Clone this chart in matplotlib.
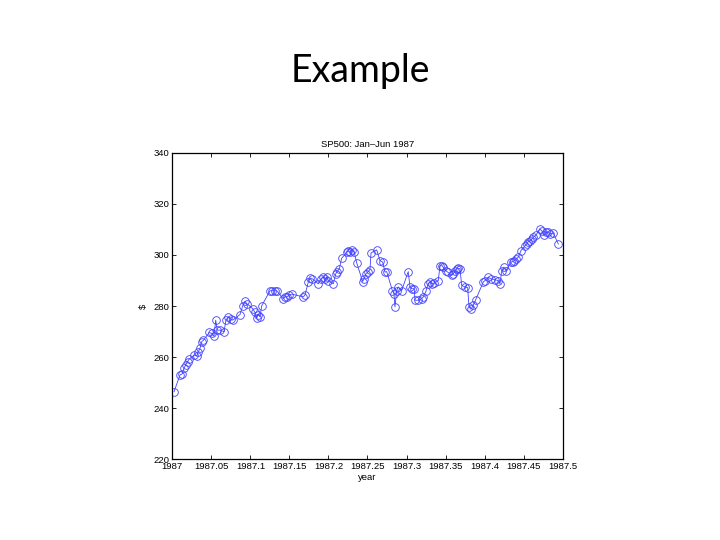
import matplotlib
matplotlib.use("Agg")
import matplotlib.pyplot as plt
import numpy as np

years = [1987.0022, 1987.0099, 1987.0128, 1987.0150, 1987.0172, 1987.0197, 1987.0214, 1987.0282,
         1987.0312, 1987.0333, 1987.0355, 1987.0377, 1987.0397, 1987.0474, 1987.0505, 1987.0534,
         1987.0556, 1987.0576, 1987.0611, 1987.0662, 1987.0688, 1987.0717, 1987.0748, 1987.0774,
         1987.0867, 1987.0902, 1987.0931, 1987.0953, 1987.1030, 1987.1059, 1987.1081, 1987.1101,
         1987.1123, 1987.1145, 1987.1251, 1987.1281, 1987.1315, 1987.1337, 1987.1422, 1987.1443,
         1987.1465, 1987.1495, 1987.1529, 1987.1678, 1987.1699, 1987.1742, 1987.1764, 1987.1793,
         1987.1870, 1987.1904, 1987.1934, 1987.1956, 1987.1977, 1987.1998, 1987.2062, 1987.2093,
         1987.2105, 1987.2139, 1987.2169, 1987.2234, 1987.2254, 1987.2276, 1987.2305, 1987.2331,
         1987.2362, 1987.2438, 1987.2455, 1987.2481, 1987.2510, 1987.2532, 1987.2545, 1987.2618,
         1987.2660, 1987.2695, 1987.2724, 1987.2746, 1987.2818, 1987.2839, 1987.2852, 1987.2874,
         1987.2894, 1987.2938, 1987.3022, 1987.3044, 1987.3066, 1987.3099, 1987.3108, 1987.3151,
         1987.3194, 1987.3215, 1987.3249, 1987.3275, 1987.3300, 1987.3322, 1987.3352, 1987.3407,
         1987.3428, 1987.3458, 1987.3471, 1987.3501, 1987.3527, 1987.3578, 1987.3599, 1987.3621,
         1987.3642, 1987.3663, 1987.3685, 1987.3706, 1987.3749, 1987.3783, 1987.3800, 1987.3825,
         1987.3855, 1987.3886, 1987.3983, 1987.4005, 1987.4047, 1987.4078, 1987.4133, 1987.4175,
         1987.4197, 1987.4219, 1987.4248, 1987.4274, 1987.4338, 1987.4360, 1987.4380, 1987.4402,
         1987.4431, 1987.4466, 1987.4517, 1987.4539, 1987.4559, 1987.4581, 1987.4603, 1987.4623,
         1987.4658, 1987.4709, 1987.4731, 1987.4764, 1987.4782, 1987.4808, 1987.4837, 1987.4879,
         1987.4944]

prices = [246.5, 253.1, 253.5, 255.7, 257.0, 258.3, 259.2, 260.9,
          260.4, 262.2, 263.5, 266.1, 266.6, 269.7, 269.3, 268.2,
          274.5, 270.6, 270.6, 270.0, 274.5, 275.8, 275.1, 274.5,
          276.7, 280.1, 281.9, 281.0, 279.0, 277.5, 275.4, 276.7,
          275.8, 280.1, 286.0, 286.0, 286.0, 286.0, 282.9, 283.6,
          283.6, 284.2, 284.7, 283.6, 284.3, 289.4, 291.0, 290.7,
          288.7, 290.7, 291.3, 290.7, 291.3, 290.0, 288.7, 292.6,
          293.3, 294.6, 298.7, 301.0, 301.7, 301.0, 302.0, 301.0,
          296.9, 289.6, 290.7, 292.6, 293.5, 294.3, 300.8, 302.0,
          297.8, 297.2, 293.3, 293.5, 286.1, 284.8, 279.7, 286.1,
          287.5, 286.1, 293.5, 287.5, 286.8, 286.8, 282.3, 282.3,
          282.9, 283.6, 285.8, 288.7, 289.4, 288.7, 289.0, 290.0,
          295.8, 295.8, 295.1, 293.9, 293.3, 292.0, 292.6, 293.9,
          294.6, 294.8, 294.6, 288.1, 287.5, 287.2, 279.7, 278.8,
          280.3, 282.5, 289.4, 290.0, 291.3, 290.7, 290.3, 290.0,
          288.7, 293.9, 295.2, 293.9, 297.2, 297.4, 297.8, 298.4,
          299.1, 301.7, 303.6, 304.3, 305.2, 305.6, 306.2, 306.9,
          307.8, 310.1, 309.5, 307.8, 308.8, 309.1, 308.2, 308.6,
          304.3]

xticks = [1987, 1987.05, 1987.1, 1987.15, 1987.2, 1987.25, 1987.3, 1987.35, 1987.4, 1987.45, 1987.5]
xticklabels = ["1987", "1987.05", "1987.1", "1987.15", "1987.2", "1987.25", "1987.3",
               "1987.35", "1987.4", "1987.45", "1987.5"]
yticks = [220, 240, 260, 280, 300, 320, 340]

fig = plt.figure(figsize=(7.2, 5.4), dpi=100)
fig.text(0.5, 0.868, "Example", ha="center", va="center", fontsize=27,
         family=["Lato", "DejaVu Sans"], color="black")

ax = fig.add_axes([0.2393, 0.1491, 0.5422, 0.5681])
ax.plot(years, prices, color="#4040ff", linewidth=0.6, marker="o", markersize=5.5,
        markerfacecolor="none", markeredgecolor="#4040ff", markeredgewidth=0.6)
ax.set_xlim(1987, 1987.5)
ax.set_ylim(220, 340)
ax.set_xticks(xticks)
ax.set_xticklabels(xticklabels)
ax.set_yticks(yticks)
ax.tick_params(direction="in", top=True, right=True, length=3, width=0.6,
               labelsize=6.8, pad=2)
for lab in ax.get_xticklabels() + ax.get_yticklabels():
    lab.set_family(["Liberation Sans", "DejaVu Sans"])
for s in ax.spines.values():
    s.set_linewidth(0.9)
ax.set_title("SP500: Jan\u2013Jun 1987", fontsize=6.8, family=["Liberation Sans", "DejaVu Sans"], pad=4)
ax.set_xlabel("year", fontsize=6.8, family=["Liberation Sans", "DejaVu Sans"], labelpad=1)
ax.set_ylabel("$", fontsize=6.8, family=["Liberation Sans", "DejaVu Sans"], labelpad=4)

fig.savefig("out.png", dpi=100)
